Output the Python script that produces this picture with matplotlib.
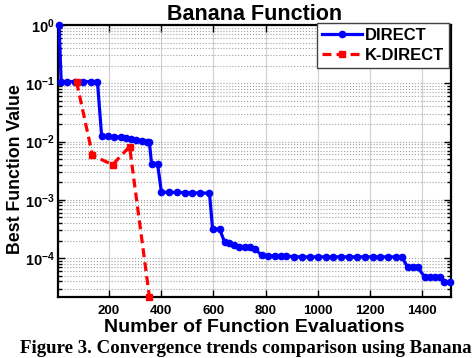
import matplotlib
matplotlib.use("Agg")
import matplotlib.pyplot as plt
from matplotlib.ticker import FixedLocator, LogLocator, NullFormatter

plt.rcParams['font.family'] = ['Liberation Sans', 'DejaVu Sans']
plt.rcParams['font.weight'] = 'bold'
plt.rcParams['mathtext.fontset'] = 'custom'
plt.rcParams['mathtext.rm'] = 'Liberation Sans:bold'
plt.rcParams['mathtext.bf'] = 'Liberation Sans:bold'
plt.rcParams['mathtext.it'] = 'Liberation Sans:bold'
plt.rcParams['mathtext.default'] = 'bf'

# ---- data ----
direct_x = [9, 17, 40, 70, 100, 130, 156, 172, 195, 220, 245, 265, 285, 305, 325, 345, 355,
            363, 386, 401, 430, 460, 490, 520, 550, 585, 597, 624, 643, 660, 680, 700, 720,
            740, 758, 785, 810, 835, 860, 880, 910, 940, 970, 1000, 1030, 1060, 1090, 1120,
            1150, 1180, 1210, 1240, 1270, 1300, 1321, 1344, 1365, 1382, 1409, 1430, 1450,
            1466, 1482, 1508]
direct_y = [1.0, 0.107, 0.107, 0.107, 0.107, 0.107, 0.107, 0.0124, 0.0123, 0.0122, 0.012,
            0.0117, 0.0112, 0.0108, 0.0104, 0.0099, 0.0097, 0.0042, 0.0042, 0.00135, 0.00135,
            0.00134, 0.00133, 0.00132, 0.00131, 0.0013, 0.000315, 0.000315, 0.000187,
            0.000185, 0.000165, 0.000155, 0.000155, 0.000155, 0.000145, 0.000112, 0.00011,
            0.00011, 0.00011, 0.000108, 0.000106, 0.000105, 0.000105, 0.000105, 0.000105,
            0.000105, 0.000105, 0.000105, 0.000105, 0.000105, 0.000105, 0.000105, 0.000105,
            0.000105, 0.000105, 7.0e-05, 7.0e-05, 7.0e-05, 4.75e-05, 4.75e-05, 4.75e-05,
            4.7e-05, 3.9e-05, 3.9e-05]
kdirect_x = [76, 137, 214, 279, 355]
kdirect_y = [0.106, 0.0058, 0.0040, 0.0082, 2.15e-05]

xticks = [200, 400, 600, 800, 1000, 1200, 1400]
yticks = [1e-4, 1e-3, 1e-2, 1e-1, 1e0]
ytick_labels = [r'$10^{-4}$', r'$10^{-3}$', r'$10^{-2}$', r'$10^{-1}$', r'$10^{0}$']

fig = plt.figure(figsize=(4.74, 3.58), dpi=100)
ax = fig.add_axes([57.5/474, 1 - 297/358, (451 - 57.5)/474, (297 - 25)/358])

ax.plot(direct_x, direct_y, color='#0000ff', linestyle='-', linewidth=2.3,
        marker='o', markersize=4.5, label='DIRECT', clip_on=False, zorder=3)
ax.plot(kdirect_x, kdirect_y, color='#ff0000', linestyle=(0, (2.8, 1.6)), linewidth=2.3,
        marker='s', markersize=5, label='K-DIRECT', clip_on=False, zorder=3)

ax.set_yscale('log')
ax.set_xlim(3, 1510)
ax.set_ylim(2.15e-5, 1.0)
ax.xaxis.set_major_locator(FixedLocator(xticks))
ax.set_xticklabels([str(t) for t in xticks])
ax.yaxis.set_major_locator(FixedLocator(yticks))
ax.set_yticklabels(ytick_labels)
ax.yaxis.set_minor_locator(LogLocator(base=10, subs=range(2, 10), numticks=20))
ax.yaxis.set_minor_formatter(NullFormatter())

ax.tick_params(axis='both', which='both', direction='in', top=True, right=True,
               width=1.0)
ax.tick_params(axis='x', which='major', labelsize=9.5, pad=6)
ax.tick_params(axis='y', which='major', labelsize=10.5, pad=2)
ax.tick_params(axis='both', which='major', length=5)
ax.tick_params(axis='both', which='minor', length=3)

ax.grid(True, axis='x', which='major', color='#d0d0d0', linestyle='-', linewidth=0.8)
ax.grid(True, axis='y', which='major', color='#a0a0a0', linestyle=':', linewidth=0.8)
ax.grid(True, axis='y', which='minor', color='#a0a0a0', linestyle=':', linewidth=0.8)
ax.set_axisbelow(True)

for s in ax.spines.values():
    s.set_linewidth(1.6)
    s.set_color('black')

ax.set_title('Banana Function', fontsize=15.5, fontweight='bold', pad=2.2)
ax.set_xlabel('Number of Function Evaluations', fontsize=14, fontweight='bold', labelpad=1)
ax.set_ylabel('Best Function Value', fontsize=12.8, fontweight='bold')
ax.yaxis.set_label_coords((24 - 57.5)/393.5, 0.47)

leg = ax.legend(loc='upper right', bbox_to_anchor=(449/474, 1 - 23/358),
                bbox_transform=fig.transFigure, frameon=True,
                fancybox=False, borderaxespad=0, handlelength=2.4, handletextpad=0.2,
                borderpad=0.3, labelspacing=0.3, prop={'weight': 'bold', 'size': 12})
leg.get_frame().set_edgecolor('#404040')
leg.get_frame().set_linewidth(1.0)
leg.get_frame().set_alpha(1)

fig.text(20/474, 5/358, 'Figure 3. Convergence trends comparison using Banana',
         fontsize=13.6, fontweight='bold', family=['Liberation Serif', 'DejaVu Serif'],
         ha='left', va='baseline')

fig.savefig('out.png', dpi=100)
